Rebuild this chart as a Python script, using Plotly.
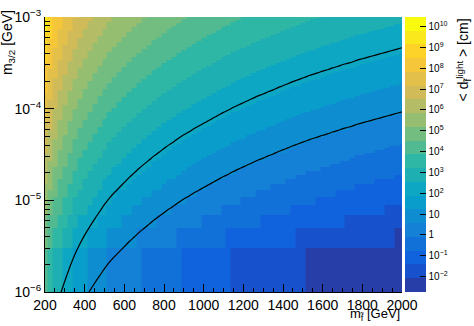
import numpy as np
import plotly.graph_objects as go

# ---------------- data ----------------
# sfermion mass bin centres [GeV]
mass_gev = list(range(200, 2001, 25))
# log10(<d> / cm) at m_3/2 = 1e-3 GeV, per mass column
log_d_ref = [9.48, 8.96, 8.49, 8.09, 7.76, 7.46, 7.19, 6.96, 6.76, 6.58, 6.41, 6.25, 6.09,
             5.95, 5.83, 5.72, 5.61, 5.50, 5.40, 5.30, 5.21, 5.12, 5.03, 4.95, 4.87, 4.79, 4.72, 4.64,
             4.57, 4.51, 4.44, 4.38, 4.32,
             4.26, 4.20, 4.14, 4.08, 4.03, 3.97, 3.92, 3.87, 3.82, 3.77, 3.72, 3.68, 3.63, 3.59,
             3.54, 3.50, 3.455, 3.41, 3.37, 3.33,
             3.29, 3.25, 3.22, 3.18, 3.15, 3.11, 3.08, 3.04, 3.01, 2.98, 2.94, 2.91, 2.88, 2.85,
             2.82, 2.79, 2.76, 2.73, 2.70, 2.67]
assert len(log_d_ref) == len(mass_gev)
m32_ref = 1e-3            # GeV, reference gravitino mass of log_d_ref
m32_power = 2.0           # <d> scales as m_3/2^2 (slope of the colour bands)
# gravitino-mass binning (linear bins, 2e-6 GeV wide)
m32_low, m32_width, m32_nbins = 1e-6, 2e-6, 500
# contour lines drawn on top (log10 <d>/cm)
contour_levels = [2.0, 0.6]
# colour axis
z_min, z_max, n_contours = -2.74, 10.46, 20
cbar_tick_exp = list(range(-2, 11))
x_ticks = list(range(200, 2001, 200))
y_tick_exp = [-6, -5, -4, -3]

# ---------------- build the histogram ----------------
m = np.array(mass_gev, float)
dx = m[1] - m[0]
x_edges = np.concatenate([m - dx / 2, [m[-1] + dx / 2]])
y_edges = m32_low + m32_width * np.arange(m32_nbins + 1)
y_cent = 0.5 * (y_edges[:-1] + y_edges[1:])
G = np.array(log_d_ref)
Z = G[None, :] + m32_power * np.log10(y_cent[:, None] / m32_ref)

# ROOT kBird palette
st = [0.0, 0.125, 0.25, 0.375, 0.5, 0.625, 0.75, 0.875, 1.0]
rr = [0.2082, 0.0592, 0.0780, 0.0232, 0.1802, 0.5301, 0.8186, 0.9956, 0.9764]
gg = [0.1664, 0.3599, 0.5041, 0.6419, 0.7178, 0.7492, 0.7328, 0.7862, 0.9832]
bb = [0.5293, 0.8684, 0.8385, 0.7914, 0.6425, 0.4662, 0.3499, 0.1968, 0.0539]


def bird(t):
    return "rgb(%d,%d,%d)" % tuple(int(round(255 * np.interp(t, st, c))) for c in (rr, gg, bb))


ncol = 255
cs = []
for k in range(n_contours):
    idx = min(int((k + 0.99) * ncol / n_contours), ncol - 1)
    col = bird(idx / (ncol - 1))
    cs.append([k / n_contours, col])
    cs.append([(k + 1) / n_contours, col])

font = "Liberation Sans"


def sup(e):
    if e == 0:
        return "1"
    if e == 1:
        return "10"
    return "10<sup>%s</sup>" % (str(e).replace("-", "\u2212"))


cb_common = dict(
    x=(405 - 45) / 357, xanchor="left", xpad=0, ypad=0,
    y=0.5, yanchor="middle", len=1, lenmode="fraction",
    thickness=21, thicknessmode="pixels", outlinewidth=0,
)

fig = go.Figure()
fig.add_trace(go.Heatmap(
    x=x_edges, y=y_edges, z=Z, zmin=z_min, zmax=z_max, colorscale=cs,
    hoverinfo="skip",
    colorbar=dict(
        **cb_common,
        tickmode="array", tickvals=cbar_tick_exp,
        ticktext=[sup(e) for e in cbar_tick_exp],
        ticks="inside", ticklen=6, tickcolor="black", tickwidth=1,
        tickfont=dict(family=font, size=10, color="black"),
    ),
))

# minor ticks of the colour axis (transparent overlay scale)
cb_minor = [e + np.log10(k) for e in range(-3, 11) for k in range(2, 10)
            if z_min <= e + np.log10(k) <= z_max]
fig.add_trace(go.Heatmap(
    x=[100, 150], y=[1e-7, 2e-7], z=[[np.nan, np.nan]], zmin=z_min, zmax=z_max,
    colorscale=[[0, "rgba(0,0,0,0)"], [1, "rgba(0,0,0,0)"]], hoverinfo="skip",
    colorbar=dict(**cb_common, tickmode="array", tickvals=cb_minor,
                  ticks="inside", ticklen=3, tickcolor="black", tickwidth=1,
                  showticklabels=False),
))

for L in contour_levels:
    ym = m32_ref * 10 ** ((L - G) / m32_power)
    fig.add_trace(go.Scatter(x=m, y=ym, mode="lines",
                             line=dict(color="black", width=1.2, shape="spline"),
                             hoverinfo="skip", showlegend=False))

minor_y = [k * 10.0 ** e for e in range(-6, -3) for k in range(2, 10)]
fig.update_layout(
    width=474, height=326,
    margin=dict(l=45, r=72, t=7, b=34),
    paper_bgcolor="white", plot_bgcolor="white",
    font=dict(family=font, size=14, color="black"),
    showlegend=False,
    xaxis=dict(range=[200, 2000], tickmode="array", tickvals=x_ticks,
               ticks="inside", ticklen=8, tickcolor="black",
               minor=dict(dtick=50, tick0=200, ticks="inside", ticklen=4, tickcolor="black"),
               showline=True, linecolor="black", linewidth=1,
               showgrid=False, zeroline=False, ticklabeloverflow="allow",
               tickfont=dict(family=font, size=14)),
    yaxis=dict(type="log", range=[-6.0005, -2.9995], tickmode="array",
               tickvals=[10.0 ** e for e in y_tick_exp],
               ticktext=[sup(e) for e in y_tick_exp],
               ticks="inside", ticklen=9, tickcolor="black",
               minor=dict(tickmode="array", tickvals=minor_y, ticks="inside", ticklen=5,
                          tickcolor="black"),
               showline=True, linecolor="black", linewidth=1,
               showgrid=False, zeroline=False, ticklabeloverflow="allow",
               tickfont=dict(family=font, size=14)),
    annotations=[
        dict(text="m<sub>f\u0303</sub> [GeV]", xref="paper", yref="paper",
             x=1.0, y=-(315.5 - 292) / 285, xanchor="right", yanchor="middle", showarrow=False,
             font=dict(size=13)),
        dict(text="m<sub>3/2</sub> [GeV]", xref="paper", yref="paper",
             x=-(45 - 8) / 357, y=1 - (34 - 7) / 285, xanchor="center", yanchor="middle",
             textangle=-90, showarrow=False, font=dict(size=14)),
        dict(text="< d<sub>f\u0303</sub><sup>light</sup> > [cm]", xref="paper", yref="paper",
             x=(464 - 45) / 357, y=1 - (52 - 7) / 285, xanchor="center", yanchor="middle",
             textangle=-90, showarrow=False, font=dict(size=14)),
    ],
)

fig.write_html("out.html")
